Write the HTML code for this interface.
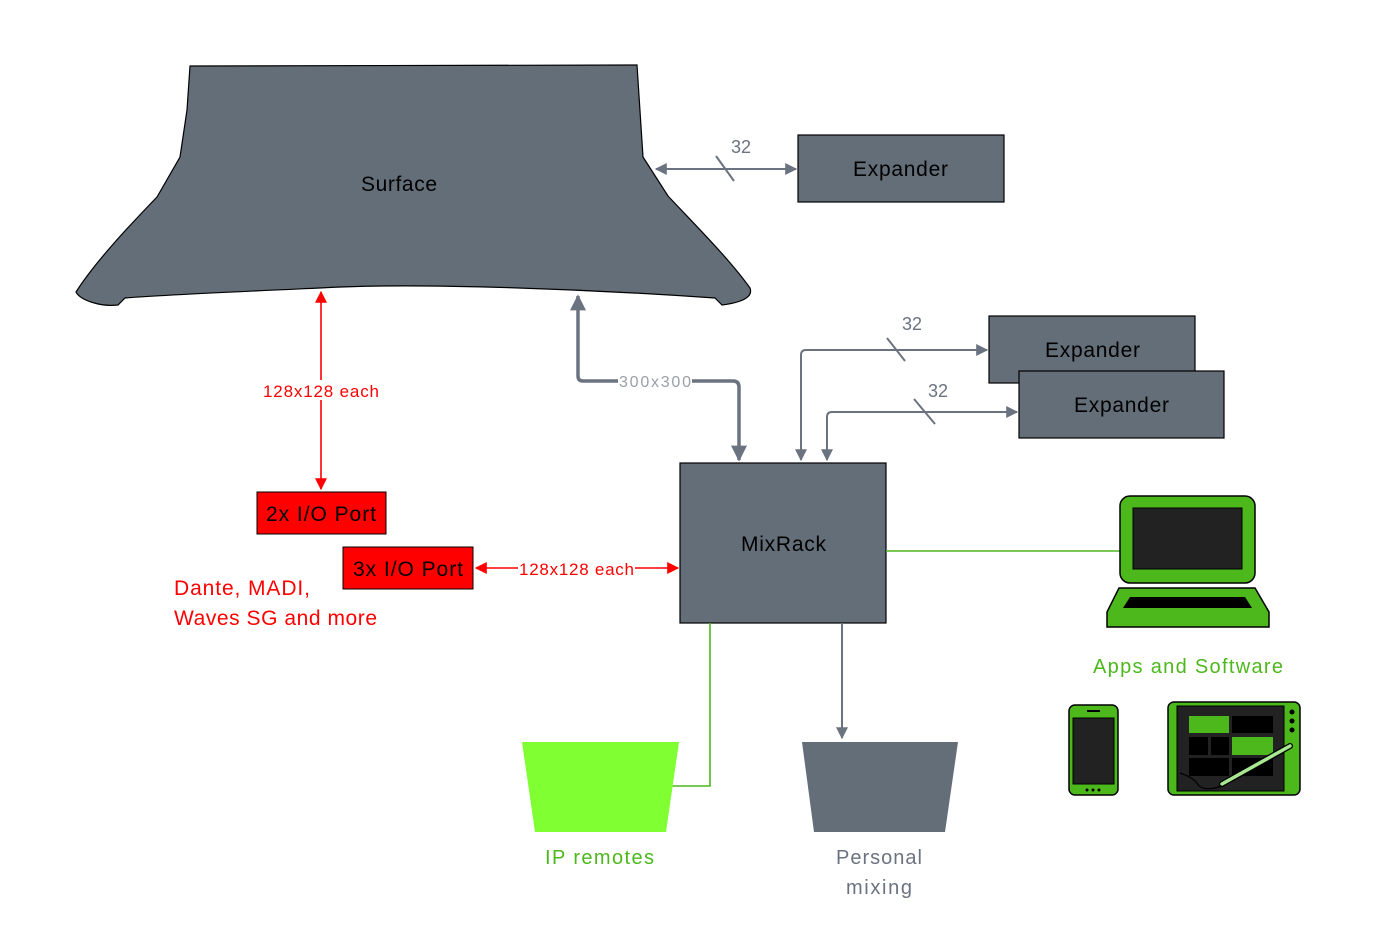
<!DOCTYPE html>
<html><head><meta charset="utf-8"><style>
html,body{margin:0;padding:0;background:#fff;}
svg{display:block;font-family:"Liberation Sans",sans-serif;}
</style></head><body>
<svg width="1388" height="946" viewBox="0 0 1388 946" xmlns="http://www.w3.org/2000/svg">
<defs>
<marker id="ag" viewBox="0 0 10 10" refX="9" refY="5" markerWidth="12" markerHeight="12" markerUnits="userSpaceOnUse" orient="auto-start-reverse"><path d="M0,0L10,5L0,10z" fill="#6b7280"/></marker>
<marker id="agb" viewBox="0 0 10 10" refX="9" refY="5" markerWidth="16" markerHeight="16" markerUnits="userSpaceOnUse" orient="auto-start-reverse"><path d="M0,0L10,5L0,10z" fill="#6b7280"/></marker>
<marker id="ar" viewBox="0 0 10 10" refX="9" refY="5" markerWidth="12" markerHeight="12" markerUnits="userSpaceOnUse" orient="auto-start-reverse"><path d="M0,0L10,5L0,10z" fill="#f00"/></marker>
</defs>
<path d="M190,66 L637,65 L643,157 L668,196 C700,230 730,260 750,288 C753,296 745,302 722,305 L715,298 C600,290 420,282 320,288 C230,292 160,295 125,298 L118,305 C100,307 80,300 76,292 C95,262 130,225 157,197 L180,157 L187,110 Z" fill="#646e78" stroke="#000" stroke-width="1.2"/>
<text x="361" y="191" font-size="21" textLength="76" fill="#000">Surface</text>
<rect x="798" y="135" width="206" height="67" fill="#646e78" stroke="#000" stroke-width="1.2"/>
<text x="853" y="176" font-size="21" textLength="95">Expander</text>
<line x1="656" y1="169" x2="796" y2="169" stroke="#6b7280" stroke-width="2" marker-start="url(#ag)" marker-end="url(#ag)"/>
<line x1="716" y1="156" x2="734" y2="181" stroke="#6b7280" stroke-width="2"/>
<text x="741" y="153" font-size="18" text-anchor="middle" fill="#6b7280">32</text>
<rect x="989" y="316" width="206" height="67" fill="#646e78" stroke="#000" stroke-width="1.2"/>
<text x="1045" y="357" font-size="21" textLength="95">Expander</text>
<rect x="1019" y="371" width="205" height="67" fill="#646e78" stroke="#000" stroke-width="1.2"/>
<text x="1074" y="412" font-size="21" textLength="95">Expander</text>
<path d="M801,460 L801,355 Q801,350 806,350 L987,350" fill="none" stroke="#6b7280" stroke-width="2" marker-start="url(#ag)" marker-end="url(#ag)"/>
<line x1="887" y1="338" x2="905" y2="361" stroke="#6b7280" stroke-width="2"/>
<text x="912" y="330" font-size="18" text-anchor="middle" fill="#6b7280">32</text>
<path d="M827,460 L827,417 Q827,412 832,412 L1017,412" fill="none" stroke="#6b7280" stroke-width="2" marker-start="url(#ag)" marker-end="url(#ag)"/>
<line x1="914" y1="399" x2="935" y2="424" stroke="#6b7280" stroke-width="2"/>
<text x="938" y="397" font-size="18" text-anchor="middle" fill="#6b7280">32</text>
<path d="M578,296 L578,376 Q578,381 583,381 L733,381 Q739,381 739,387 L739,460" fill="none" stroke="#6b7280" stroke-width="3.5" marker-start="url(#agb)" marker-end="url(#agb)"/>
<rect x="618" y="372" width="74" height="18" fill="#fff"/>
<text x="619" y="387" font-size="16" textLength="72" fill="#9aa0a8">300x300</text>
<rect x="680" y="463" width="206" height="160" fill="#646e78" stroke="#000" stroke-width="1.2"/>
<text x="741" y="551" font-size="21" textLength="85">MixRack</text>
<line x1="321" y1="292" x2="321" y2="489" stroke="#f00" stroke-width="1.6" marker-start="url(#ar)" marker-end="url(#ar)"/>
<rect x="262" y="380" width="118" height="20" fill="#fff"/>
<text x="263" y="397" font-size="17" textLength="116" fill="#f00">128x128 each</text>
<rect x="257" y="492" width="129" height="42" fill="#f00" stroke="#000" stroke-width="1"/>
<text x="266" y="521" font-size="21" textLength="110">2x I/O Port</text>
<rect x="343" y="547" width="130" height="42" fill="#f00" stroke="#000" stroke-width="1"/>
<text x="353" y="576" font-size="21" textLength="110">3x I/O Port</text>
<line x1="476" y1="568" x2="678" y2="568" stroke="#f00" stroke-width="1.6" marker-start="url(#ar)" marker-end="url(#ar)"/>
<rect x="518" y="558" width="117" height="20" fill="#fff"/>
<text x="519" y="575" font-size="17" textLength="115" fill="#f00">128x128 each</text>
<text x="174" y="595" font-size="21" textLength="136" fill="#f00">Dante, MADI,</text>
<text x="174" y="625" font-size="21" textLength="203" fill="#f00">Waves SG and more</text>
<line x1="886" y1="551" x2="1120" y2="551" stroke="#4cb81c" stroke-width="1.6"/>
<path d="M710,623 L710,786 L672,786" fill="none" stroke="#4cb81c" stroke-width="1.6"/>
<path d="M522,742 L679,742 L666,832 L535,832 Z" fill="#80ff33"/>
<text x="545" y="864" font-size="20" textLength="109" fill="#4cb81c">IP remotes</text>
<line x1="842" y1="623" x2="842" y2="738" stroke="#6b7280" stroke-width="2" marker-end="url(#ag)"/>
<path d="M802,742 L958,742 L945,832 L814,832 Z" fill="#646e78"/>
<text x="836" y="864" font-size="20" textLength="86" fill="#6b7280">Personal</text>
<text x="846" y="894" font-size="20" textLength="66" fill="#6b7280">mixing</text>
<rect x="1120" y="496" width="135" height="87" rx="10" fill="#4cb81c" stroke="#000" stroke-width="1.5"/>
<rect x="1133" y="508" width="109" height="61" fill="#222" stroke="#000"/>
<path d="M1119,588 L1255,588 L1269,612 L1269,627 L1107,627 L1107,612 Z" fill="#4cb81c" stroke="#000" stroke-width="1.5"/>
<path d="M1130,597 L1245,597 L1252,608 L1123,608 Z" fill="#000"/>
<text x="1093" y="673" font-size="20" textLength="190" fill="#4cb81c">Apps and Software</text>
<rect x="1069" y="705" width="49" height="90" rx="6" fill="#4cb81c" stroke="#000" stroke-width="1.5"/>
<rect x="1073" y="718" width="41" height="66" fill="#222" stroke="#000"/>
<line x1="1087" y1="711" x2="1100" y2="711" stroke="#000" stroke-width="2"/>
<circle cx="1087" cy="790" r="1.5"/><circle cx="1093" cy="790" r="1.5"/><circle cx="1099" cy="790" r="1.5"/>
<rect x="1168" y="702" width="132" height="93" rx="6" fill="#4cb81c" stroke="#000" stroke-width="1.5"/>
<rect x="1177" y="706" width="107" height="85" fill="#222" stroke="#000"/>
<rect x="1189" y="716" width="40" height="17" fill="#4cb81c"/>
<rect x="1232" y="716" width="41" height="17" fill="#000"/>
<rect x="1189" y="737" width="19" height="18" fill="#000"/>
<rect x="1211" y="737" width="18" height="18" fill="#000"/>
<rect x="1232" y="737" width="41" height="18" fill="#4cb81c"/>
<rect x="1189" y="758" width="40" height="18" fill="#000"/>
<rect x="1232" y="758" width="41" height="18" fill="#000"/>
<circle cx="1292" cy="712" r="2.5"/><circle cx="1292" cy="721" r="2.5"/><circle cx="1292" cy="730" r="2.5"/>
<line x1="1222" y1="784" x2="1290" y2="746" stroke="#000" stroke-width="6" stroke-linecap="round"/>
<line x1="1222" y1="784" x2="1290" y2="746" stroke="#a8e890" stroke-width="3.5" stroke-linecap="round"/>
<path d="M1180,773 Q1195,778 1198,785 Q1205,792 1222,786" fill="none" stroke="#000" stroke-width="1.2"/>
</svg>
</body></html>
